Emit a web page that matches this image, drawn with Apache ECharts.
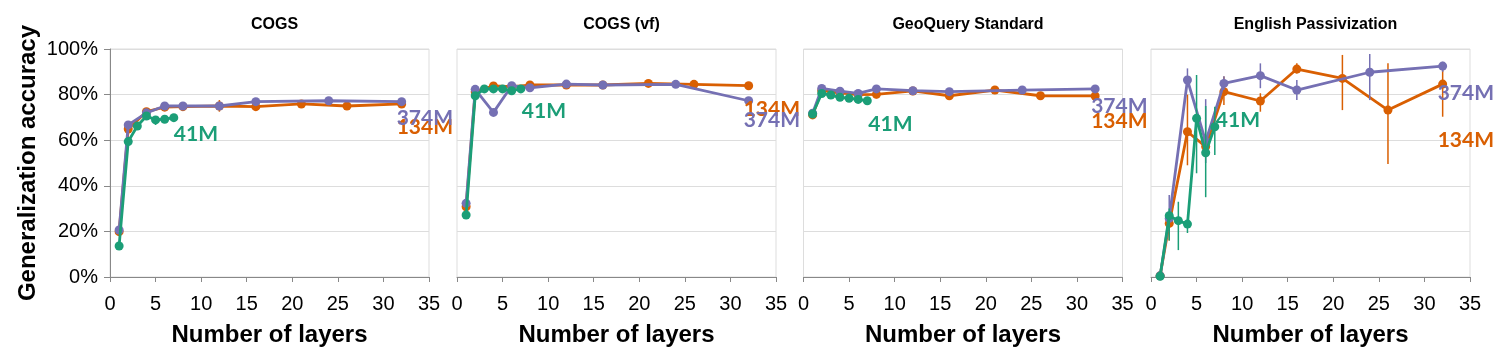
<!DOCTYPE html>
<html>
<head>
<meta charset="utf-8">
<script src="https://cdn.jsdelivr.net/npm/echarts@6/dist/echarts.min.js"></script>
<style>
html,body{margin:0;padding:0;background:#fff;}
#chart{width:1505px;height:356px;}
</style>
</head>
<body>
<div id="chart"></div>
<script>
// ---------- data ----------
const panelTitles = ['COGS', 'COGS (vf)', 'GeoQuery Standard', 'English Passivization'];
const xTicks = [0, 5, 10, 15, 20, 25, 30, 35];
const yTicks = [0, 20, 40, 60, 80, 100];

const layers374M = [1, 2, 4, 6, 8, 12, 16, 24, 32];
const layers134M = [1, 2, 4, 6, 8, 12, 16, 21, 26, 32];
const layers41M = [1, 2, 3, 4, 5, 6, 7];

// accuracy (%) per panel
const acc374M = [
  [20.6, 66.7, 72.0, 75.0, 75.0, 75.0, 76.9, 77.3, 76.9],
  [32.3, 82.3, 72.2, 83.9, 83.0, 84.6, 84.2, 84.5, 77.3],
  [71.8, 82.7, 81.5, 80.5, 82.5, 81.7, 81.3, 82.0, 82.5],
  [0.5, 25.7, 86.4, 59.4, 84.9, 88.3, 82.0, 89.8, 92.5]
];
const acc134M = [
  [19.9, 64.9, 72.5, 74.5, 74.7, 75.0, 74.7, 75.9, 75.0, 75.9],
  [30.8, 81.3, 83.8, 83.5, 84.2, 84.2, 84.2, 84.9, 84.5, 83.9],
  [71.1, 81.7, 80.8, 80.0, 80.1, 81.6, 79.5, 82.0, 79.5, 79.4],
  [0.5, 23.5, 63.7, 57.2, 81.3, 77.2, 91.2, 87.1, 73.2, 84.6]
];
const acc41M = [
  [13.6, 59.4, 66.2, 70.6, 68.9, 69.2, 69.9],
  [27.2, 79.5, 82.5, 82.5, 82.5, 81.7, 82.5],
  [71.5, 80.5, 79.8, 78.8, 78.4, 77.9, 77.3],
  [0.3, 26.9, 24.7, 23.2, 69.6, 54.5, 65.9]
];

// error bars: [layers, low, high]
const err374M = [
  [],
  [],
  [],
  [[2, 22, 36], [4, 83.5, 91.5], [6, 50, 78], [8, 82, 88], [12, 82.8, 93.7], [16, 77.6, 86.4], [24, 77.6, 97.8], [32, 90, 94.4]]
];
const err134M = [
  [[12, 72.5, 77.6]],
  [],
  [[8, 78.3, 82], [21, 80.5, 83.6]],
  [[2, 16, 27], [4, 49, 80], [8, 75.4, 87.9], [12, 72.5, 80.6], [16, 89.3, 93.7], [21, 73.2, 97.4], [26, 49.6, 93.7], [32, 70.3, 92.2]]
];
const err41M = [
  [[5, 66.7, 70.6]],
  [],
  [],
  [[2, 16, 30], [3, 11.8, 33], [4, 19.3, 25], [5, 45.5, 88.6], [6, 35, 75], [7, 53.5, 74.7]]
];

const seriesNames = ['134M', '374M', '41M'];

// ---------- styling / layout ----------
const colors = {'374M': '#7570b3', '134M': '#d95f02', '41M': '#1b9e77'};
const gridLefts = [110, 457, 803.5, 1151];
const gridWidth = 319, gridTop = 49, gridHeight = 228;
// label offsets [dx, dy] relative to last point
const labelOffsets = [
  {'374M': [-5, 17], '134M': [-5, 23], '41M': [0, 17]},
  {'374M': [-5, 19], '134M': [-5, 24], '41M': [1, 22]},
  {'374M': [-4, 17], '134M': [-4, 25], '41M': [1, 23]},
  {'374M': [-5, 27], '134M': [-5, 56], '41M': [1, -7]}
];

const FONT = 'Liberation Sans, Arial, sans-serif';

const grids = [], xAxes = [], yAxes = [], titles = [], series = [];

for (let p = 0; p < 4; p++) {
  grids.push({left: gridLefts[p], top: gridTop, width: gridWidth, height: gridHeight,
    show: true, borderColor: '#dddddd', borderWidth: 1, backgroundColor: 'transparent', containLabel: false});
  titles.push({text: panelTitles[p], left: gridLefts[p] + gridWidth / 2, top: 12, textAlign: 'center',
    textStyle: {fontFamily: FONT, fontSize: 16, fontWeight: 'bold', color: '#000'}});
  xAxes.push({type: 'value', gridIndex: p, min: xTicks[0], max: xTicks[xTicks.length - 1],
    interval: xTicks[1] - xTicks[0], offset: 6,
    name: 'Number of layers', nameLocation: 'middle', nameGap: 40,
    nameTextStyle: {fontFamily: FONT, fontSize: 24, fontWeight: 'bold', color: '#000'},
    axisLine: {show: true, lineStyle: {color: '#888', width: 1}},
    axisTick: {show: true, length: 5, lineStyle: {color: '#888'}},
    axisLabel: {show: true, fontFamily: FONT, fontSize: 20, color: '#000', margin: 11},
    splitLine: {show: false}});
  yAxes.push({type: 'value', gridIndex: p, min: yTicks[0], max: yTicks[yTicks.length - 1],
    interval: yTicks[1] - yTicks[0], offset: 2,
    name: p === 0 ? 'Generalization accuracy' : '', nameLocation: 'middle', nameGap: 68, nameRotate: 90,
    nameTextStyle: {fontFamily: FONT, fontSize: 24, fontWeight: 'bold', color: '#000'},
    axisLine: {show: p === 0, lineStyle: {color: '#888', width: 1}},
    axisTick: {show: p === 0, length: 6, lineStyle: {color: '#888'}},
    axisLabel: {show: p === 0, formatter: '{value}%', fontFamily: FONT, fontSize: 20, color: '#000', margin: 10},
    splitLine: {show: true, lineStyle: {color: '#dddddd', width: 1}}});

  const sets = {
    '134M': {x: layers134M, y: acc134M[p], e: err134M[p]},
    '374M': {x: layers374M, y: acc374M[p], e: err374M[p]},
    '41M': {x: layers41M, y: acc41M[p], e: err41M[p]}
  };
  seriesNames.forEach((name, si) => {
    const s = sets[name];
    const col = colors[name];
    // error bars
    if (s.e.length) {
      series.push({type: 'custom', xAxisIndex: p, yAxisIndex: p, z: 2 + si,
        data: s.e, encode: {x: 0, y: [1, 2]}, silent: true,
        renderItem: function (params, api) {
          const a = api.coord([api.value(0), api.value(1)]);
          const b = api.coord([api.value(0), api.value(2)]);
          return {type: 'line', shape: {x1: a[0], y1: a[1], x2: b[0], y2: b[1]},
            style: {stroke: col, lineWidth: 1.5}};
        }});
    }
    const data = s.x.map((xv, i) => [xv, s.y[i]]);
    const last = data[data.length - 1];
    const off = labelOffsets[p][name];
    series.push({type: 'line', name: name, xAxisIndex: p, yAxisIndex: p, z: 2 + si,
      data: data, symbol: 'circle', symbolSize: 9, showSymbol: true,
      lineStyle: {color: col, width: 2.8}, itemStyle: {color: col},
      emphasis: {disabled: true},
      markPoint: {symbol: 'circle', symbolSize: 0, silent: true,
        data: [{coord: last, value: name}],
        label: {show: true, formatter: name, position: off, align: 'left', verticalAlign: 'middle',
          fontFamily: 'Lato, Liberation Sans, sans-serif', fontWeight: 'bold', fontSize: 21, color: col}}
    });
  });
}

const chart = echarts.init(document.getElementById('chart'), null, {renderer: 'canvas'});
chart.setOption({
  animation: false,
  backgroundColor: '#fff',
  title: titles,
  grid: grids,
  xAxis: xAxes,
  yAxis: yAxes,
  series: series
});
</script>
</body>
</html>
